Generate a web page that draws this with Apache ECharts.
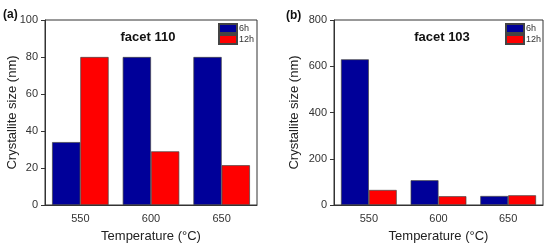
<!DOCTYPE html>
<html><head><meta charset="utf-8">
<script src="https://cdn.jsdelivr.net/npm/echarts@6/dist/echarts.min.js"></script>
<style>html,body{margin:0;padding:0;background:#fff}#c{width:550px;height:244px}</style>
</head><body><div id="c"></div>
<script>
const categories = ['550', '600', '650'];
const seriesNames = ['6h', '12h'];
const facet110_6h = [34, 80, 80];
const facet110_12h = [80, 29, 21.5];
const facet103_6h = [630, 107, 39];
const facet103_12h = [65, 38, 42];
const yTicksA = {min: 0, max: 100, interval: 20};
const yTicksB = {min: 0, max: 800, interval: 200};

const FONT = 'Liberation Sans, Arial, sans-serif';
const BLUE = '#000099', RED = '#ff0000';
const chart = echarts.init(document.getElementById('c'));

function xAxis(i) {
  return {
    type: 'category', gridIndex: i, data: categories,
    name: 'Temperature (°C)', nameLocation: 'middle', nameGap: 25,
    nameTextStyle: {fontFamily: FONT, fontSize: 13, color: '#222'},
    axisLine: {lineStyle: {color: '#333', width: 1}},
    axisTick: {alignWithLabel: true, length: 4, lineStyle: {color: '#333'}},
    axisLabel: {fontFamily: FONT, fontSize: 11, color: '#333', margin: 8}
  };
}
function yAxis(i, t, gap) {
  return {
    type: 'value', gridIndex: i, min: t.min, max: t.max, interval: t.interval,
    name: 'Crystallite size (nm)', nameLocation: 'middle', nameGap: gap,
    nameMoveOverlap: false,
    nameTextStyle: {fontFamily: FONT, fontSize: 13, color: '#222'},
    splitLine: {show: false},
    axisLine: {show: true, lineStyle: {color: '#333', width: 1}},
    axisTick: {show: true, length: 4, lineStyle: {color: '#333'}},
    axisLabel: {fontFamily: FONT, fontSize: 11, color: '#333', margin: 7}
  };
}
function bar(name, data, i, color) {
  return {
    type: 'bar', name: name, data: data, xAxisIndex: i, yAxisIndex: i,
    barGap: '0%', barCategoryGap: '20%',
    itemStyle: {color: color, borderColor: '#444', borderWidth: 0.7},
    emphasis: {disabled: true}
  };
}
function legend(left) {
  return {
    data: seriesNames.map(n => ({name: n, icon: 'rect'})),
    orient: 'vertical', left: left, top: 23,
    itemWidth: 18, itemHeight: 9, itemGap: 0, padding: 0,
    textStyle: {fontFamily: FONT, fontSize: 9, color: '#333', padding: [0, 0, 0, -3]},
    selectedMode: false
  };
}

chart.setOption({
  animation: false,
  title: [
    {text: '(a)', left: 3, top: 9, padding: 0, textStyle: {fontFamily: FONT, fontSize: 12, fontWeight: 'bold', color: '#111'}},
    {text: '(b)', left: 286, top: 10, padding: 0, textStyle: {fontFamily: FONT, fontSize: 12, fontWeight: 'bold', color: '#111'}},
    {text: 'facet 110', left: 148, top: 31, padding: 0, textAlign: 'center', textStyle: {fontFamily: FONT, fontSize: 13, fontWeight: 'bold', color: '#111'}},
    {text: 'facet 103', left: 442, top: 31, padding: 0, textAlign: 'center', textStyle: {fontFamily: FONT, fontSize: 13, fontWeight: 'bold', color: '#111'}}
  ],
  legend: [legend(218), legend(505)],
  grid: [
    {left: 45, top: 20, width: 212, height: 185, outerBoundsMode: 'none', containLabel: false, show: true, borderColor: '#333', borderWidth: 1, backgroundColor: 'transparent'},
    {left: 334, top: 20, width: 209, height: 185, outerBoundsMode: 'none', containLabel: false, show: true, borderColor: '#333', borderWidth: 1, backgroundColor: 'transparent'}
  ],
  xAxis: [xAxis(0), xAxis(1)],
  yAxis: [yAxis(0, yTicksA, 26), yAxis(1, yTicksB, 33)],
  series: [
    bar(seriesNames[0], facet110_6h, 0, BLUE),
    bar(seriesNames[1], facet110_12h, 0, RED),
    bar(seriesNames[0], facet103_6h, 1, BLUE),
    bar(seriesNames[1], facet103_12h, 1, RED)
  ]
});
</script></body></html>
